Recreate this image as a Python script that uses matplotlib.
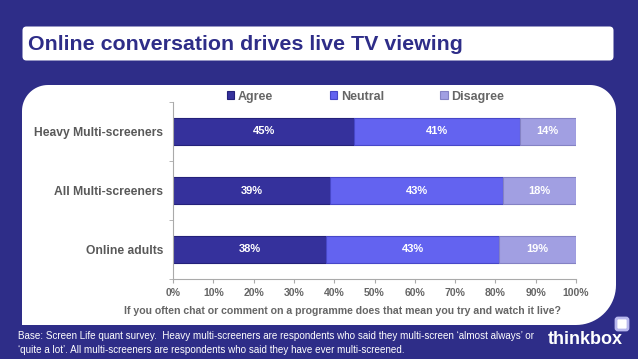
import numpy as np
import matplotlib
matplotlib.use("Agg")
import matplotlib.pyplot as plt
from matplotlib.patches import FancyBboxPatch, Polygon

plt.rcParams['font.family'] = ['Liberation Sans', 'DejaVu Sans']

# data
categories = ["Heavy Multi-screeners", "All Multi-screeners", "Online adults"]
agree = [45, 39, 38]
neutral = [41, 43, 43]
disagree = [14, 18, 19]
series_names = ["Agree", "Neutral", "Disagree"]
xticks = [0, 10, 20, 30, 40, 50, 60, 70, 80, 90, 100]

navy = "#2e2d88"
colors = ["#35319c", "#6363f0", "#a19fe2"]
edges = ["#24217a", "#4747c8", "#8482c4"]
gray = "#666666"

W, H = 638, 359
fig = plt.figure(figsize=(W / 100, H / 100), dpi=100)
fig.patch.set_facecolor(navy)

# background overlay in pixel coords
bg = fig.add_axes([0, 0, 1, 1])
bg.set_xlim(0, W)
bg.set_ylim(H, 0)
bg.axis("off")

# title box
bg.add_patch(FancyBboxPatch((24, 28), 588, 31, boxstyle="round,pad=1.5,rounding_size=4",
                            fc="white", ec="none"))
bg.text(28, 44, "Online conversation drives live TV viewing", color="#2e2d88",
        fontsize=15.4, fontweight="bold", va="center", ha="left")

# white panel with rounded corners (top-left, top-right, bottom-right)
def arc(cx, cy, r, a0, a1, n=20):
    t = np.radians(np.linspace(a0, a1, n))
    return np.column_stack([cx + r * np.cos(t), cy - r * np.sin(t)])

x0, x1, y0, y1 = 22, 616, 85, 325
r1, r2, r3 = 26, 26, 40
pts = np.vstack([
    [[x0, y1]],
    arc(x0 + r1, y0 + r1, r1, 180, 90),
    arc(x1 - r2, y0 + r2, r2, 90, 0),
    arc(x1 - r3, y1 - r3, r3, 0, -90),
])
bg.add_patch(Polygon(pts, closed=True, fc="white", ec="none"))

# logo
bg.add_patch(FancyBboxPatch((617, 319), 10, 10, boxstyle="round,pad=1,rounding_size=2",
                            fc="white", ec="#b8b8ee", lw=2))
bg.text(585, 339, "thinkbox", color="white", fontsize=13, fontweight="bold",
        ha="center", va="center")

# footnote
bg.text(18, 336, "Base: Screen Life quant survey.  Heavy multi-screeners are respondents who said they multi-screen \u2018almost always\u2019 or",
        color="white", fontsize=7.1, va="center", ha="left")
bg.text(18, 350, "\u2018quite a lot\u2019. All multi-screeners are respondents who said they have ever multi-screened.",
        color="white", fontsize=7.1, va="center", ha="left")

# axis title
bg.text(342, 311, "If you often chat or comment on a programme does that mean you try and watch it live?",
        color=gray, fontsize=7.6, fontweight="bold", ha="center", va="center")

# chart
ax = fig.add_axes([173 / W, 1 - 279 / H, (576 - 173) / W, (279 - 102) / H])
ax.set_facecolor("none")
y = np.arange(len(categories))
left = np.zeros(len(categories))
for vals, name, c, e in zip([agree, neutral, disagree], series_names, colors, edges):
    bars = ax.barh(y, vals, left=left, height=0.46, color=c, edgecolor=e, lw=0.8, label=name)
    for b, v in zip(bars, vals):
        ax.text(b.get_x() + b.get_width() / 2, b.get_y() + b.get_height() / 2, f"{v}%",
                color="white", fontsize=8, fontweight="bold", ha="center", va="center")
    left += np.array(vals)

ax.set_xlim(0, 100)
ax.set_ylim(len(categories) - 0.5, -0.5)
ax.set_xticks(xticks)
ax.set_xticklabels([f"{t}%" for t in xticks], color=gray, fontsize=7.5, fontweight="bold")
ax.set_yticks(y)
ax.set_yticklabels(categories, color="#595959", fontsize=8.7, fontweight="bold")
ax.set_yticks([-0.5, 0.5, 1.5, 2.5], minor=True)
ax.tick_params(axis="y", which="major", length=0, pad=7)
ax.tick_params(axis="y", which="minor", length=3, color="#aaaaaa", direction="out")
ax.tick_params(axis="x", length=3, color="#aaaaaa", pad=3.5)
for s in ["top", "right"]:
    ax.spines[s].set_visible(False)
ax.spines["left"].set_color("#aaaaaa")
ax.spines["bottom"].set_color("#aaaaaa")

leg = ax.legend(loc="center", bbox_to_anchor=(0.478, 1.03), ncol=3, frameon=False,
                prop={"size": 9, "weight": "bold"}, handlelength=0.6, handleheight=0.6,
                columnspacing=4.5, handletextpad=0.3)
for t in leg.get_texts():
    t.set_color(gray)

fig.savefig("out.png", dpi=100, facecolor=navy)
